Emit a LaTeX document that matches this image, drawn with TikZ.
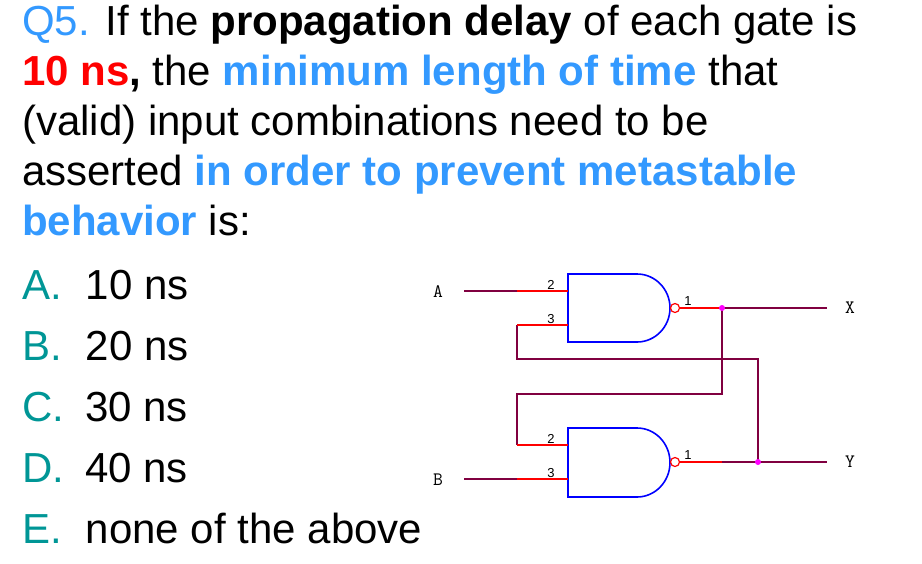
\documentclass[tikz,border=0pt]{standalone}
\usepackage{fontspec}
\setmainfont{Liberation Sans}
\definecolor{qblue}{RGB}{51,153,255}
\definecolor{qred}{RGB}{255,0,0}
\definecolor{qteal}{RGB}{0,150,150}
\definecolor{wire}{RGB}{128,0,64}
\definecolor{gblue}{RGB}{0,0,255}
\definecolor{dotc}{RGB}{255,0,255}
\begin{document}
\begin{tikzpicture}[x=1pt,y=-1pt,
  txt/.style={anchor=base west,inner sep=0pt,font=\fontsize{42}{42}\selectfont},
  opt/.style={anchor=base west,inner sep=0pt,font=\fontsize{42}{42}\selectfont},
  lbl/.style={inner sep=0pt,font=\ttfamily\fontsize{19}{19}\selectfont},
  pin/.style={inner sep=0pt,font=\fontsize{13}{13}\selectfont,anchor=base},
  w/.style={wire,line width=1.3pt},
  r/.style={qred,line width=1.3pt},
  g/.style={gblue,line width=1.6pt},
  dotn/.style={circle,fill=dotc,inner sep=0pt,minimum size=6pt}]
\useasboundingbox (0,0) rectangle (922,563);
\node[txt] (l1) at (22,35) {\textcolor{qblue}{Q5.} If the \textbf{propagation delay} of each gate is};
\node[txt] (l2) at (22,85) {\textcolor{qred}{\textbf{10 ns}}\textbf{,} the \textcolor{qblue}{\textbf{minimum length of time}} that};
\node[txt] (l3) at (22,135) {(valid) input combinations need to be};
\node[txt] (l4) at (22,185) {asserted \textcolor{qblue}{\textbf{in order to prevent metastable}}};
\node[txt] (l5) at (22,235) {\textcolor{qblue}{\textbf{behavior}} is:};
\node[opt] (oa) at (22,299) {\textcolor{qteal}{A.}\hspace{24pt}10 ns};
\node[opt] (ob) at (22,360) {\textcolor{qteal}{B.}\hspace{24pt}20 ns};
\node[opt] (oc) at (22,421) {\textcolor{qteal}{C.}\hspace{21pt}30 ns};
\node[opt] (od) at (22,482) {\textcolor{qteal}{D.}\hspace{21pt}40 ns};
\node[opt] (oe) at (22,543) {\textcolor{qteal}{E.}\hspace{24pt}none of the above};
% labels
\node[lbl] (A) at (438,292) {A};
\node[lbl] (B) at (438,480) {B};
\node[lbl] (X) at (850,308) {X};
\node[lbl] (Y) at (850,462) {Y};
% gates
\draw[g] (637,274) -- (568,274) -- (568,342) -- (637,342) arc (90:-90:33 and 34);
\draw[g] (637,428) -- (568,428) -- (568,497) -- (637,497) arc (90:-90:33 and 34.5);
\draw[qred,line width=1.2pt] (675,308) circle (4.5);
\draw[qred,line width=1.2pt] (675,462) circle (4.5);
\node[pin] (p12) at (551,289) {2};
\node[pin] (p13) at (551,323) {3};
\node[pin] (p22) at (551,443) {2};
\node[pin] (p23) at (551,477) {3};
\node[pin] (p11) at (688,305) {1};
\node[pin] (p21) at (688,459) {1};
\coordinate (dx) at (722,308);
\coordinate (dy) at (758,462);
% wires
\draw[w] (464,291) -- (517,291);
\draw[r] (517,291) -- (568,291);
\draw[w] (464,479) -- (517,479);
\draw[r] (517,479) -- (568,479);
\draw[r] (679.5,308) -- (dx);
\draw[w] (dx) -- (827,308);
\draw[r] (679.5,462) -- (722,462);
\draw[w] (722,462) -- (827,462);
\draw[w] (dy) -- (758,359) -- (517,359) -- (517,325);
\draw[r] (517,325) -- (568,325);
\draw[w] (dx) -- (722,394) -- (517,394) -- (517,445);
\draw[r] (517,445) -- (568,445);
\node[dotn] (ndx) at (dx) {};
\node[dotn] (ndy) at (dy) {};
\end{tikzpicture}
\end{document}
